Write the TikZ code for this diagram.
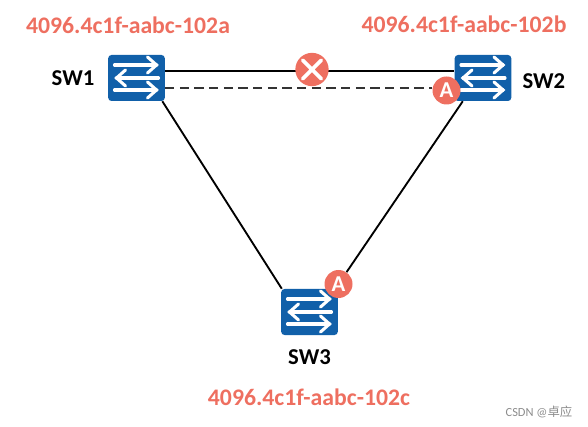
\documentclass[tikz,border=0pt]{standalone}
\usepackage{fontspec}
\setmainfont{Carlito}
\newfontfamily\cjkfont{Noto Sans CJK SC}
\usetikzlibrary{positioning,shapes.misc,calc,backgrounds}
\definecolor{coral}{HTML}{EE6F60}
\definecolor{swblue}{HTML}{1160A9}
\newcommand{\swarrows}[1]{%
  \foreach \yy/\xa/\xb/\dd in {-13/-22/20/-1, 0/22/-20/1, 12/-22/20/-1} {
    \draw[swarrow] ($(#1)+(\xa,\yy)$) -- ($(#1)+(\xb,\yy)$);
    \draw[swarrow] ($(#1)+(\xb,\yy)+(\dd*9,-8)$) -- ($(#1)+(\xb,\yy)$) -- ($(#1)+(\xb,\yy)+(\dd*9,8)$);
  }
}
\begin{document}
\begin{tikzpicture}[
  x=0.75pt, y=-0.75pt,
  sw/.style={fill=swblue, rounded corners=2.5pt, minimum width=42.5pt, minimum height=34.5pt, inner sep=0pt},
  swarrow/.style={draw=white, line width=2.3pt, line cap=round, line join=miter},
  badge/.style={circle, fill=coral, text=white, inner sep=0pt, minimum size=21pt, font=\fontsize{17}{17}\selectfont\bfseries},
  failmark/.style={draw=white, line width=2.8pt, cross out, line cap=round, minimum size=11pt, inner sep=0pt},
  addr/.style={text=coral, inner sep=0pt, font=\fontsize{17.8}{20}\selectfont\bfseries},
  swname/.style={inner sep=0pt, font=\fontsize{17}{19}\selectfont\bfseries},
  link/.style={draw=black, line width=1.4pt},
]
\useasboundingbox (0,0) rectangle (588,427);

% switches
\node[sw] (sw1) at (136.5,78) {};
\node[sw] (sw2) at (483,78) {};
\node[sw] (sw3) at (309.5,312) {};
\swarrows{sw1}
\swarrows{sw2}
\swarrows{sw3}

% badges
\node[badge, minimum size=25pt] (fail) at (312,69.5) {};
\node[failmark] (failx) at (fail) {};
\node[badge] (altb) at (446.5,90.5) {A};
\node[badge] (altc) at (338.5,284) {A};

% links
\begin{scope}[on background layer]
\draw[link] (sw1.14) -- (sw2.166);
\draw[link, dash pattern=on 7pt off 4pt, draw=black!80] (sw1.-19) -- (sw1.-19 -| altb.west);
\draw[link] (sw1.-42) -- (sw3.140);
\draw[link] (sw2.-131) -- (altc);
\end{scope}

\node[swname, left=10pt of sw1] (name1) {SW1};
\node[swname, right=8pt of sw2, yshift=-2pt] (name2) {SW2};
\node[swname, below=10.5pt of sw3] (name3) {SW3};

\node[addr] (addr1) at (128,25) {4096.4c1f-aabc-102a};
\node[addr] (addr2) at (464,24) {4096.4c1f-aabc-102b};
\node[addr] (addr3) at (309,397) {4096.4c1f-aabc-102c};

\node[text=black!45, inner sep=0pt, font=\fontsize{9.3}{10}\selectfont] (mark) at (539,412) {CSDN @{\cjkfont 卓应}};
\end{tikzpicture}
\end{document}
